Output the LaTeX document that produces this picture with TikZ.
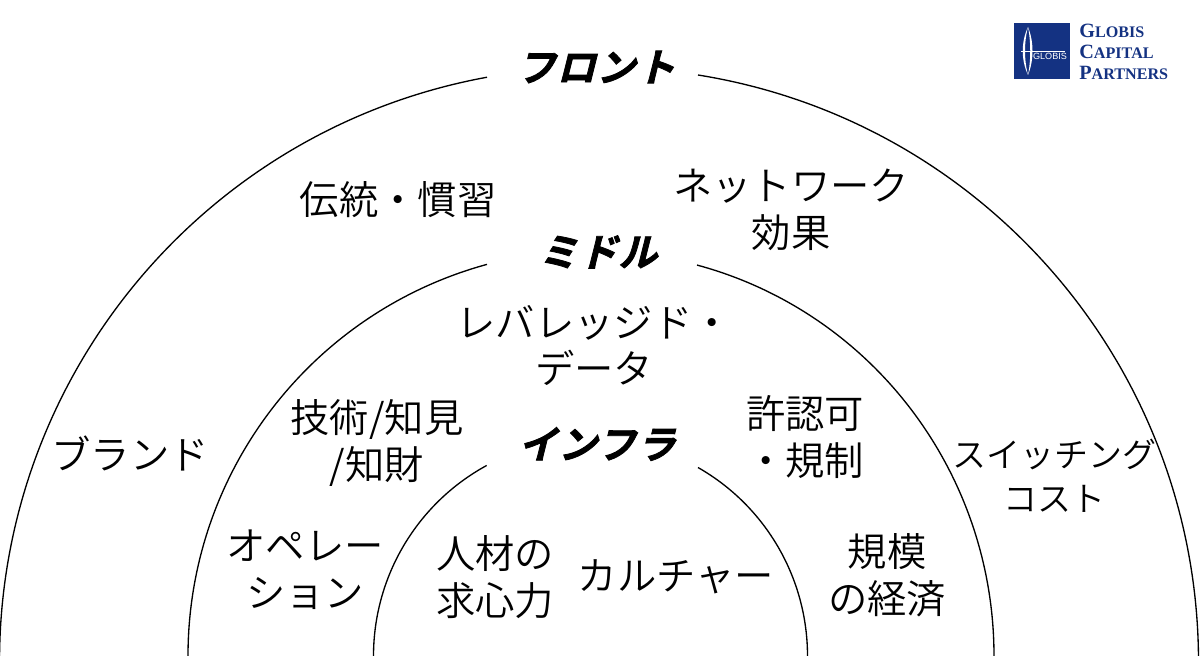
\documentclass[tikz,border=0pt]{standalone}
\usepackage{fontspec}
\setmainfont{Liberation Serif}
\setsansfont{Liberation Sans}
\newfontfamily\cjk{Noto Sans CJK JP DemiLight}
\newfontfamily\cjkhead[FakeSlant=0.25,FakeBold=2,LetterSpace=3]{Noto Sans CJK JP Bold}
\definecolor{logoblue}{RGB}{20,50,130}
\tikzset{
    arcline/.style={draw=black,line width=1pt},
    itemtext/.style={font=\cjk\fontsize{29.5pt}{35pt}\selectfont,align=center,inner sep=0pt},
    smalltext/.style={font=\cjk\fontsize{25.5pt}{33pt}\selectfont,align=center,inner sep=0pt},
    headtext/.style={font=\cjkhead\fontsize{29pt}{36pt}\selectfont,inner sep=0pt},
    logotext/.style={font=\bfseries,text=logoblue,anchor=west,inner sep=0pt},
}
\newcommand{\logoname}[2]{\fontsize{15.2pt}{16pt}\selectfont #1\fontsize{12.1pt}{13pt}\selectfont #2}
\begin{document}
\begin{tikzpicture}[x=0.75pt,y=0.75pt,yscale=-1,xscale=1]
    \useasboundingbox (0,0) rectangle (1200,656);
    \clip (0,0) rectangle (1200,656);

    % arcs
    \draw [arcline] (594,662) ++(180:594.5) arc [start angle=180,end angle=259.63,radius=594.5];
    \draw [arcline] (604,662) ++(0:594.5) arc [start angle=360,end angle=279.1,radius=594.5];
    \draw [arcline] (594,656) ++(180:406) arc [start angle=180,end angle=254.72,radius=406];
    \draw [arcline] (594,656) ++(400,0) arc [start angle=360,end angle=284.92,x radius=400,y radius=404.6];
    \draw [arcline] (590.5,656) ++(180:217) arc [start angle=180,end angle=241.4,radius=217];
    \draw [arcline] (590.5,656) ++(0:217) arc [start angle=360,end angle=299.7,radius=217];

    % heads
    \node [headtext] (front) at (596,67) {フロント};
    \node [headtext] (middle) at (598,252) {ミドル};
    \node [headtext] (infra) at (597,444) {インフラ};

    % outer ring
    \node [itemtext] (habit) at (398,200) {伝統・慣習};
    \node [itemtext] (network) at (791,210) {ネットワーク\\効果};
    \node [itemtext] (brand) at (130,453) {ブランド};
    \node [smalltext] (switching) at (1054,476) {スイッチング\\コスト};

    % middle ring
    \node [itemtext] (leverage) at (594,345.5) {レバレッジド・\\データ};
    \node [itemtext] (tech) at (377,443) {技術/知見\\/知財};
    \node [itemtext] (permit) at (805,437) {許認可\\・規制};
    \node [itemtext] (operation) at (305,570) {オペレー\\ション};
    \node [itemtext] (scale) at (887,575) {規模\\の経済};

    % inner ring
    \node [itemtext] (talent) at (495,577) {人材の\\求心力};
    \node [itemtext] (culture) at (676,577) {カルチャー};

    % logo
    \fill [logoblue] (1014,23) rectangle (1070,79);
    \fill [white] (1028,27) .. controls (1021,42) and (1021,60) .. (1028,75) .. controls (1024,60) and (1024,42) .. (1028,27) -- cycle;
    \fill [white] (1028,27) .. controls (1034,42) and (1034,60) .. (1028,75) .. controls (1031,60) and (1031,42) .. (1028,27) -- cycle;
    \draw [white,line width=0.4pt] (1021,51) -- (1065,51);
    \draw [white,line width=0.6pt] (1030,51) -- (1030,65);
    \node [font=\sffamily\fontsize{6.8pt}{8pt}\selectfont,text=white,inner sep=0pt] (logomark) at (1050,56.5) {GLOBIS};
    \node [logotext] (logoa) at (1079,31) {\logoname{G}{LOBIS}};
    \node [logotext] (logob) at (1079,52) {\logoname{C}{APITAL}};
    \node [logotext] (logoc) at (1079,73) {\logoname{P}{ARTNERS}};
\end{tikzpicture}
\end{document}
